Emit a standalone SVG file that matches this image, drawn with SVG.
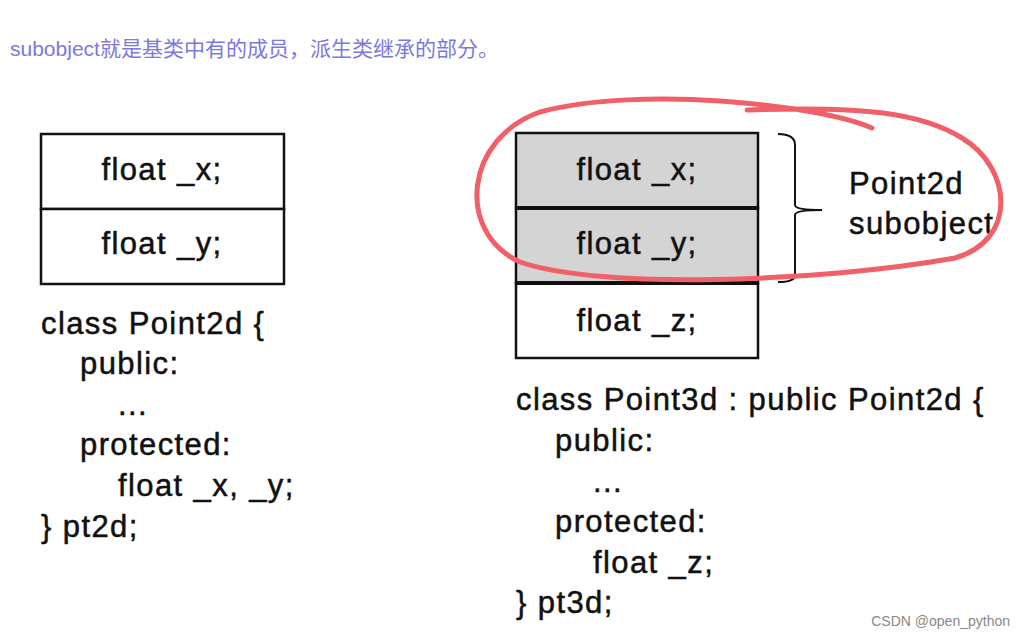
<svg xmlns="http://www.w3.org/2000/svg" width="1024" height="639" viewBox="0 0 1024 639">
<style>
.t{font-family:"Liberation Sans",Arial,sans-serif;font-size:31px;fill:#111;letter-spacing:1.4px;stroke:#111;stroke-width:0.5}
.c{text-anchor:middle}
.box{stroke:#111;stroke-width:2.5;fill:#fff}
.g{fill:#d4d4d4}
</style>
<rect width="1024" height="639" fill="#fff"/>
<text x="10" y="56" font-family="'Liberation Sans','Noto Sans CJK SC',sans-serif" font-size="21" fill="#7b78e0">subobject就是基类中有的成员，派生类继承的部分。</text>
<g id="pt2d">
<rect class="box" x="41" y="134" width="243" height="75"/>
<rect class="box" x="41" y="209" width="243" height="75"/>
<text class="t c" x="162" y="180">float _x;</text>
<text class="t c" x="162" y="254">float _y;</text>
</g>
<g id="pt2d-code">
<text class="t" x="41" y="334">class Point2d {</text>
<text class="t" x="80" y="374">public:</text>
<text class="t" x="118" y="415">...</text>
<text class="t" x="80" y="455">protected:</text>
<text class="t" x="118" y="496">float _x, _y;</text>
<text class="t" x="41" y="537">} pt2d;</text>
</g>
<g id="pt3d">
<rect class="box g" x="516" y="133" width="242" height="75"/>
<rect class="box g" x="516" y="208" width="242" height="75"/>
<rect class="box" x="516" y="283" width="242" height="75"/>
<line x1="516" y1="208" x2="758" y2="208" stroke="#111" stroke-width="4"/>
<line x1="516" y1="283" x2="758" y2="283" stroke="#111" stroke-width="4"/>
<text class="t c" x="637" y="180">float _x;</text>
<text class="t c" x="637" y="254">float _y;</text>
<text class="t c" x="637" y="331">float _z;</text>
</g>
<g id="brace">
<path d="M778,134 Q795,134 795,145 L795,205 Q795,210 822,210 Q795,210 795,215 L795,275 Q795,282 778,282" fill="none" stroke="#111" stroke-width="2"/>
<text class="t" x="849" y="194">Point2d</text>
<text class="t" x="849" y="234">subobject</text>
</g>
<g id="pt3d-code">
<text class="t" x="516" y="410">class Point3d : public Point2d {</text>
<text class="t" x="555" y="451">public:</text>
<text class="t" x="593" y="492">...</text>
<text class="t" x="555" y="532">protected:</text>
<text class="t" x="593" y="573">float _z;</text>
<text class="t" x="516" y="613">} pt3d;</text>
</g>
<path d="M872,128 C820,105 640,85 540,112 C465,138 455,232 520,262 C600,290 820,282 955,258 C1018,240 1012,168 962,138 C920,112 860,106 747,110" fill="none" stroke="#f06068" stroke-width="5" stroke-linecap="round"/>
<text x="1010" y="626" text-anchor="end" font-family="'Liberation Sans',sans-serif" font-size="14" fill="#888">CSDN @open_python</text>
</svg>
